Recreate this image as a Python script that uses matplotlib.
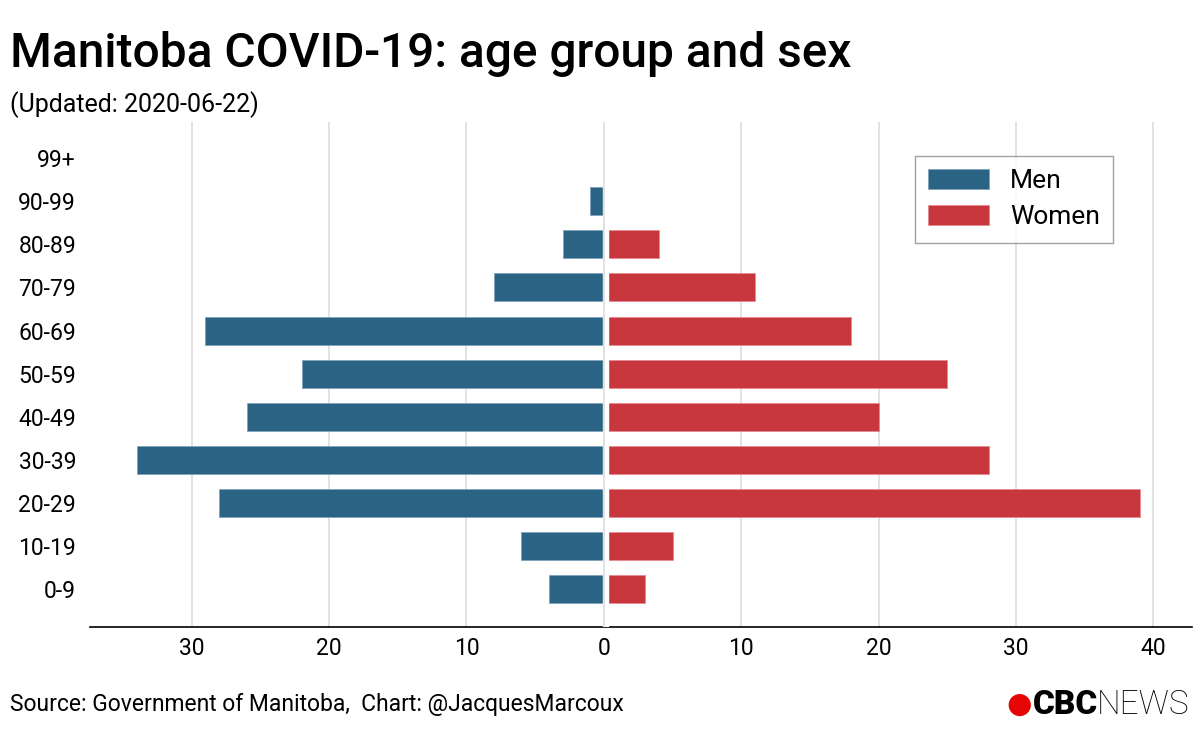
import numpy as np
import matplotlib.pyplot as plt

# ------------ data ------------
AGE_GROUPS = ["0-9", "10-19", "20-29", "30-39", "40-49", "50-59",
              "60-69", "70-79", "80-89", "90-99", "99+"]
MEN = [4, 6, 28, 34, 26, 22, 29, 8, 3, 1, 0]
WOMEN = [3, 5, 39, 28, 20, 25, 18, 11, 4, 0, 0]
X_TICKS = [-30, -20, -10, 0, 10, 20, 30, 40]
X_TICK_LABELS = ["30", "20", "10", "0", "10", "20", "30", "40"]

# ------------ style ------------
FONT = ["Roboto", "DejaVu Sans"]
MEN_COLOR = "#2b6385"
WOMEN_COLOR = "#c8363e"
plt.rcParams["font.family"] = FONT

fig = plt.figure(figsize=(12, 7.52), dpi=100)
ax = fig.add_axes([0.075, 0.1662, 0.9183, 0.6716])

y = np.arange(len(AGE_GROUPS))
ax.barh(y, -np.array(MEN), height=0.65, color=MEN_COLOR,
        edgecolor="#7fa3bb", linewidth=0.6, label="Men", zorder=2)
ax.barh(y, WOMEN, height=0.65, color=WOMEN_COLOR,
        edgecolor="#e58a8f", linewidth=0.6, label="Women", zorder=2)

# little white gap at zero, with the grey zero line over it
ax.axvspan(-0.1, 0.28, color="white", zorder=3)
for xt in X_TICKS:
    ax.axvline(xt, color="#dddddd", linewidth=1.2, zorder=1 if xt else 4)

ax.set_xlim(-37.4, 42.8)
ax.set_ylim(-0.88, 10.84)
ax.set_yticks(y)
ax.set_yticklabels(AGE_GROUPS)
ax.set_xticks(X_TICKS)
ax.set_xticklabels(X_TICK_LABELS)
ax.tick_params(axis="both", length=0, labelsize=16.5, colors="black")
ax.tick_params(axis="x", pad=7)
ax.tick_params(axis="y", pad=10)
for s in ("top", "right", "left"):
    ax.spines[s].set_visible(False)
ax.spines["bottom"].set_linewidth(1.2)

leg = ax.legend(loc="upper right", bbox_to_anchor=(0.9285, 0.933), fontsize=19,
                fancybox=False, edgecolor="#888888", handlelength=2.3,
                handleheight=0.8, handletextpad=0.8, borderpad=0.5,
                labelspacing=0.45, borderaxespad=0)
leg.get_frame().set_linewidth(1.0)

fig.text(0.008, 0.928, "Manitoba COVID-19: age group and sex", fontsize=34.5,
         fontweight="medium", va="center", ha="left")
fig.text(0.008, 0.861, "(Updated: 2020-06-22)", fontsize=18, va="center", ha="left")
fig.text(0.008, 0.063, "Source: Government of Manitoba,  Chart: @JacquesMarcoux",
         fontsize=16.5, va="center", ha="left")

# CBC NEWS wordmark, chained right to left
r = fig.canvas.get_renderer()
news = fig.text(0.991, 0.063, "NEWS", fontsize=24, fontweight="light",
                va="center", ha="right")
x_news = news.get_window_extent(r).x0 / fig.bbox.width
cbc = fig.text(x_news + 0.001, 0.063, "CBC", fontsize=24, fontweight="black",
               va="center", ha="right")
x_cbc = cbc.get_window_extent(r).x0 / fig.bbox.width
fig.text(x_cbc - 0.011, 0.063, "\u25cf", color="#e60505", fontsize=21,
         va="center", ha="center")

fig.savefig("out.png", dpi=100, facecolor="white")
